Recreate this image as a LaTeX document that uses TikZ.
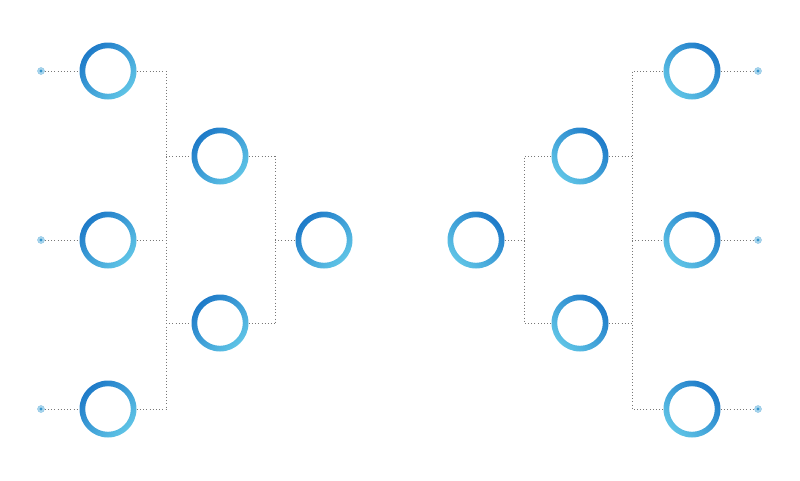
\documentclass[tikz,border=0pt]{standalone}
\usetikzlibrary{calc}
\definecolor{ringdark}{RGB}{30,122,200}
\definecolor{ringmid}{RGB}{30,168,224}
\definecolor{ringlight}{RGB}{95,196,230}
\definecolor{dotfill}{RGB}{170,215,238}
\definecolor{dotcore}{RGB}{55,150,205}
\definecolor{linegray}{RGB}{120,120,120}
\tikzset{
  ringL/.style={circle, minimum size=57pt, inner sep=0pt,
    path picture={\shade[even odd rule, top color=ringdark, middle color=ringmid, bottom color=ringlight, shading angle=45]
      (path picture bounding box.center) circle (28.5pt) (path picture bounding box.center) circle (22.8pt);}},
  ringR/.style={circle, minimum size=57pt, inner sep=0pt,
    path picture={\shade[even odd rule, top color=ringdark, middle color=ringmid, bottom color=ringlight, shading angle=-45]
      (path picture bounding box.center) circle (28.5pt) (path picture bounding box.center) circle (22.8pt);}},
  enddot/.style={circle, minimum size=7pt, inner sep=0pt, draw=dotcore!60, line width=0.4pt, fill=dotfill,
    path picture={\fill[dotcore] (path picture bounding box.center) circle (1.6pt);}},
  conn/.style={draw=linegray, line width=0.9pt, dash pattern=on 0.9pt off 2.3pt}
}
\begin{document}
\begin{tikzpicture}[x=1pt,y=-1pt]
\useasboundingbox (0,0) rectangle (800,480);
% left rings
\node[ringL] (L1) at (108,71) {};
\node[ringL] (L2) at (108,240) {};
\node[ringL] (L3) at (108,409) {};
\node[ringL] (M1) at (220,156) {};
\node[ringL] (M2) at (220,323) {};
\node[ringL] (C1) at (324,240) {};
% right rings
\node[ringR] (R1) at (692,71) {};
\node[ringR] (R2) at (692,240) {};
\node[ringR] (R3) at (692,409) {};
\node[ringR] (N1) at (580,156) {};
\node[ringR] (N2) at (580,323) {};
\node[ringR] (C2) at (476,240) {};
% end dots
\node[enddot] (dL1) at (41,71) {};
\node[enddot] (dL2) at (41,240) {};
\node[enddot] (dL3) at (41,409) {};
\node[enddot] (dR1) at (758,71) {};
\node[enddot] (dR2) at (758,240) {};
\node[enddot] (dR3) at (758,409) {};
% junctions
\coordinate (a1) at (166,71);
\coordinate (a2) at (166,240);
\coordinate (a3) at (166,409);
\coordinate (b1) at (166,156);
\coordinate (b2) at (166,323);
\coordinate (c1) at (275,156);
\coordinate (c2) at (275,323);
\coordinate (c3) at (275,240);
\coordinate (d1) at (632,71);
\coordinate (d2) at (632,240);
\coordinate (d3) at (632,409);
\coordinate (f1) at (632,156);
\coordinate (f2) at (632,323);
\coordinate (e1) at (524,156);
\coordinate (e2) at (524,323);
\coordinate (e3) at (524,240);
% left connectors
\draw[conn] (dL1) -- (L1.west);
\draw[conn] (dL2) -- (L2.west);
\draw[conn] (dL3) -- (L3.west);
\draw[conn] (L1.east) -- (a1) -- (a3);
\draw[conn] (L2.east) -- (a2);
\draw[conn] (L3.east) -- (a3);
\draw[conn] (b1) -- (M1.west);
\draw[conn] (b2) -- (M2.west);
\draw[conn] (M1.east) -- (c1) -- (c2);
\draw[conn] (M2.east) -- (c2);
\draw[conn] (c3) -- (C1.west);
% right connectors
\draw[conn] (R1.east) -- (dR1);
\draw[conn] (R2.east) -- (dR2);
\draw[conn] (R3.east) -- (dR3);
\draw[conn] (R1.west) -- (d1) -- (d3);
\draw[conn] (d2) -- (R2.west);
\draw[conn] (R3.west) -- (d3);
\draw[conn] (N1.east) -- (f1);
\draw[conn] (N2.east) -- (f2);
\draw[conn] (N1.west) -- (e1) -- (e2);
\draw[conn] (N2.west) -- (e2);
\draw[conn] (C2.east) -- (e3);
\end{tikzpicture}
\end{document}
